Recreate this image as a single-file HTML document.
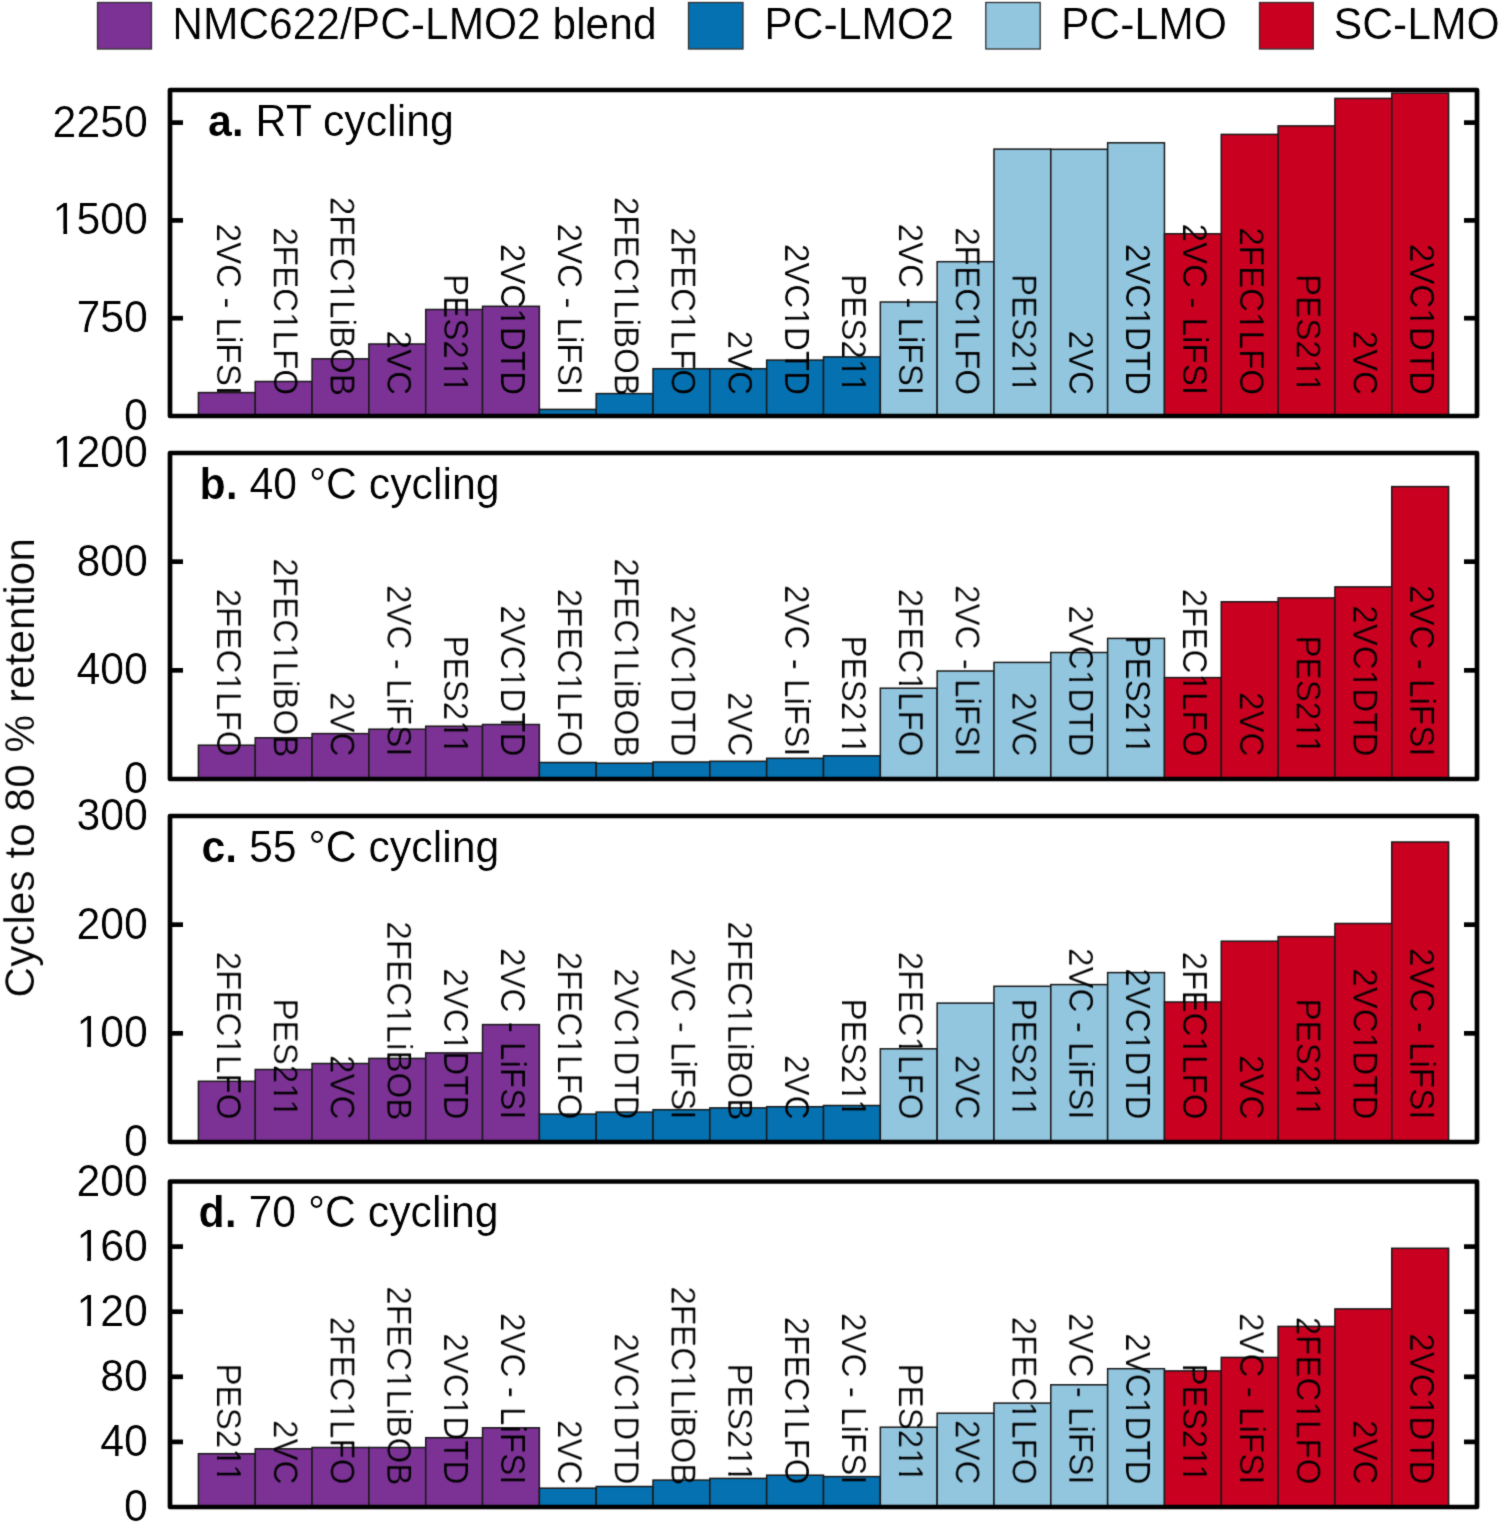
<!DOCTYPE html>
<html><head><meta charset="utf-8"><title>Cycles to 80% retention</title>
<style>html,body{margin:0;padding:0;background:#fff;}svg{display:block;will-change:transform;}text{font-family:"Liberation Sans", sans-serif;fill:#000;}text{filter:url(#thin);}</style>
</head><body>
<svg width="1500" height="1525" viewBox="0 0 1500 1525">
<defs><filter id="soft" x="0" y="0" width="1500" height="1525" filterUnits="userSpaceOnUse" color-interpolation-filters="sRGB"><feConvolveMatrix order="3" kernelMatrix="0.03667 0.19150 0.03667 0.19150 1.00000 0.19150 0.03667 0.19150 0.03667" divisor="1.91266" edgeMode="duplicate"/></filter></defs><g filter="url(#soft)">
<rect x="0" y="0" width="1500" height="1525" fill="#fff"/>
<defs><filter id="thin" x="-0.1" y="-0.3" width="1.2" height="1.6"><feComponentTransfer><feFuncA type="linear" slope="1.3" intercept="-0.3"/></feComponentTransfer></filter></defs>
<rect x="97.5" y="2.5" width="54.0" height="46.5" fill="#7B3294" stroke="#333" stroke-width="1.3"/>
<text transform="translate(172.3,39) scale(1,1.035)" font-size="42.5">NMC622/PC-LMO2 blend</text>
<rect x="688.5" y="2.5" width="54.5" height="46.5" fill="#0571B0" stroke="#333" stroke-width="1.3"/>
<text transform="translate(764.2,39) scale(1,1.035)" font-size="42.7">PC-LMO2</text>
<rect x="985.8" y="2.5" width="54.4" height="46.5" fill="#92C5DE" stroke="#333" stroke-width="1.3"/>
<text transform="translate(1060.9,39) scale(1,1.035)" font-size="42.7">PC-LMO</text>
<rect x="1259.5" y="2.5" width="53.8" height="46.5" fill="#CA0020" stroke="#333" stroke-width="1.3"/>
<text transform="translate(1333.7,39) scale(1,1.035)" font-size="42.7">SC-LMO</text>
<text transform="translate(34.2,767.8) rotate(-90)" text-anchor="middle" font-size="42.4">Cycles to 80 % retention</text>
<rect x="198.41" y="392.60" width="56.83" height="23.40" fill="#7B3294" stroke="#1a1a1a" stroke-width="1.5"/>
<rect x="255.24" y="381.50" width="56.83" height="34.50" fill="#7B3294" stroke="#1a1a1a" stroke-width="1.5"/>
<rect x="312.07" y="358.80" width="56.83" height="57.20" fill="#7B3294" stroke="#1a1a1a" stroke-width="1.5"/>
<rect x="368.89" y="344.00" width="56.83" height="72.00" fill="#7B3294" stroke="#1a1a1a" stroke-width="1.5"/>
<rect x="425.72" y="309.50" width="56.83" height="106.50" fill="#7B3294" stroke="#1a1a1a" stroke-width="1.5"/>
<rect x="482.54" y="306.30" width="56.83" height="109.70" fill="#7B3294" stroke="#1a1a1a" stroke-width="1.5"/>
<rect x="539.37" y="409.40" width="56.83" height="6.60" fill="#0571B0" stroke="#1a1a1a" stroke-width="1.5"/>
<rect x="596.20" y="393.60" width="56.83" height="22.40" fill="#0571B0" stroke="#1a1a1a" stroke-width="1.5"/>
<rect x="653.02" y="368.70" width="56.83" height="47.30" fill="#0571B0" stroke="#1a1a1a" stroke-width="1.5"/>
<rect x="709.85" y="368.70" width="56.83" height="47.30" fill="#0571B0" stroke="#1a1a1a" stroke-width="1.5"/>
<rect x="766.67" y="360.10" width="56.83" height="55.90" fill="#0571B0" stroke="#1a1a1a" stroke-width="1.5"/>
<rect x="823.50" y="356.90" width="56.83" height="59.10" fill="#0571B0" stroke="#1a1a1a" stroke-width="1.5"/>
<rect x="880.33" y="302.00" width="56.83" height="114.00" fill="#92C5DE" stroke="#1a1a1a" stroke-width="1.5"/>
<rect x="937.15" y="261.70" width="56.83" height="154.30" fill="#92C5DE" stroke="#1a1a1a" stroke-width="1.5"/>
<rect x="993.98" y="149.10" width="56.83" height="266.90" fill="#92C5DE" stroke="#1a1a1a" stroke-width="1.5"/>
<rect x="1050.80" y="149.30" width="56.83" height="266.70" fill="#92C5DE" stroke="#1a1a1a" stroke-width="1.5"/>
<rect x="1107.63" y="142.80" width="56.83" height="273.20" fill="#92C5DE" stroke="#1a1a1a" stroke-width="1.5"/>
<rect x="1164.46" y="233.80" width="56.83" height="182.20" fill="#CA0020" stroke="#1a1a1a" stroke-width="1.5"/>
<rect x="1221.28" y="134.40" width="56.83" height="281.60" fill="#CA0020" stroke="#1a1a1a" stroke-width="1.5"/>
<rect x="1278.11" y="125.90" width="56.83" height="290.10" fill="#CA0020" stroke="#1a1a1a" stroke-width="1.5"/>
<rect x="1334.93" y="98.40" width="56.83" height="317.60" fill="#CA0020" stroke="#1a1a1a" stroke-width="1.5"/>
<rect x="1391.76" y="93.10" width="56.83" height="322.90" fill="#CA0020" stroke="#1a1a1a" stroke-width="1.5"/>
<text transform="translate(216.83,395.10) rotate(90) scale(1,1.04)" font-size="33.2" text-anchor="end">2VC - LiFSI</text>
<text id="t1" transform="translate(273.65,395.10) rotate(90) scale(1,1.04)" font-size="33.2" text-anchor="end" clip-path="url(#c1)">2FEC1LFO</text>
<text id="t2" transform="translate(330.48,396.10) rotate(90) scale(1,1.04)" font-size="33.2" text-anchor="end" clip-path="url(#c2)">2FEC1LiBOB</text>
<text transform="translate(387.30,395.10) rotate(90) scale(1,1.04)" font-size="33.2" text-anchor="end">2VC</text>
<text id="t3" transform="translate(444.13,393.30) rotate(90) scale(1,1.04)" font-size="33.2" text-anchor="end" clip-path="url(#c3)">PES211</text>
<text id="t4" transform="translate(500.96,395.10) rotate(90) scale(1,1.04)" font-size="33.2" text-anchor="end" clip-path="url(#c4)">2VC1DTD</text>
<text transform="translate(557.78,395.10) rotate(90) scale(1,1.04)" font-size="33.2" text-anchor="end">2VC - LiFSI</text>
<text id="t5" transform="translate(614.61,396.10) rotate(90) scale(1,1.04)" font-size="33.2" text-anchor="end" clip-path="url(#c5)">2FEC1LiBOB</text>
<text id="t6" transform="translate(671.43,395.10) rotate(90) scale(1,1.04)" font-size="33.2" text-anchor="end" clip-path="url(#c6)">2FEC1LFO</text>
<text transform="translate(728.26,395.10) rotate(90) scale(1,1.04)" font-size="33.2" text-anchor="end">2VC</text>
<text id="t7" transform="translate(785.09,395.10) rotate(90) scale(1,1.04)" font-size="33.2" text-anchor="end" clip-path="url(#c7)">2VC1DTD</text>
<text id="t8" transform="translate(841.91,393.30) rotate(90) scale(1,1.04)" font-size="33.2" text-anchor="end" clip-path="url(#c8)">PES211</text>
<text transform="translate(898.74,395.10) rotate(90) scale(1,1.04)" font-size="33.2" text-anchor="end">2VC - LiFSI</text>
<text id="t9" transform="translate(955.57,395.10) rotate(90) scale(1,1.04)" font-size="33.2" text-anchor="end" clip-path="url(#c9)">2FEC1LFO</text>
<text id="t10" transform="translate(1012.39,393.30) rotate(90) scale(1,1.04)" font-size="33.2" text-anchor="end" clip-path="url(#c10)">PES211</text>
<text transform="translate(1069.22,395.10) rotate(90) scale(1,1.04)" font-size="33.2" text-anchor="end">2VC</text>
<text id="t11" transform="translate(1126.04,395.10) rotate(90) scale(1,1.04)" font-size="33.2" text-anchor="end" clip-path="url(#c11)">2VC1DTD</text>
<text transform="translate(1182.87,395.10) rotate(90) scale(1,1.04)" font-size="33.2" text-anchor="end">2VC - LiFSI</text>
<text id="t12" transform="translate(1239.70,395.10) rotate(90) scale(1,1.04)" font-size="33.2" text-anchor="end" clip-path="url(#c12)">2FEC1LFO</text>
<text id="t13" transform="translate(1296.52,393.30) rotate(90) scale(1,1.04)" font-size="33.2" text-anchor="end" clip-path="url(#c13)">PES211</text>
<text transform="translate(1353.35,395.10) rotate(90) scale(1,1.04)" font-size="33.2" text-anchor="end">2VC</text>
<text id="t14" transform="translate(1410.17,395.10) rotate(90) scale(1,1.04)" font-size="33.2" text-anchor="end" clip-path="url(#c14)">2VC1DTD</text>
<rect x="170.0" y="90" width="1307.0" height="326" fill="none" stroke="#000" stroke-width="4.7" stroke-linejoin="round"/>
<text transform="translate(147.8,430.00) scale(1,1.04)" font-size="42.8" text-anchor="end">0</text>
<line x1="170.0" y1="318.20" x2="183.0" y2="318.20" stroke="#000" stroke-width="4.7"/>
<line x1="1477.0" y1="318.20" x2="1464.0" y2="318.20" stroke="#000" stroke-width="4.7"/>
<text transform="translate(147.8,332.20) scale(1,1.04)" font-size="42.8" text-anchor="end">750</text>
<line x1="170.0" y1="220.40" x2="183.0" y2="220.40" stroke="#000" stroke-width="4.7"/>
<line x1="1477.0" y1="220.40" x2="1464.0" y2="220.40" stroke="#000" stroke-width="4.7"/>
<text id="t15" transform="translate(147.8,234.40) scale(1,1.04)" font-size="42.8" text-anchor="end" clip-path="url(#c15)">1500</text>
<line x1="170.0" y1="122.60" x2="183.0" y2="122.60" stroke="#000" stroke-width="4.7"/>
<line x1="1477.0" y1="122.60" x2="1464.0" y2="122.60" stroke="#000" stroke-width="4.7"/>
<text transform="translate(147.8,136.60) scale(1,1.04)" font-size="42.8" text-anchor="end">2250</text>
<text transform="translate(208,136.10) scale(1,1.02)" font-size="42.8"><tspan font-weight="bold">a.</tspan> RT cycling</text>
<rect x="198.41" y="745.20" width="56.83" height="33.80" fill="#7B3294" stroke="#1a1a1a" stroke-width="1.5"/>
<rect x="255.24" y="737.80" width="56.83" height="41.20" fill="#7B3294" stroke="#1a1a1a" stroke-width="1.5"/>
<rect x="312.07" y="733.60" width="56.83" height="45.40" fill="#7B3294" stroke="#1a1a1a" stroke-width="1.5"/>
<rect x="368.89" y="729.20" width="56.83" height="49.80" fill="#7B3294" stroke="#1a1a1a" stroke-width="1.5"/>
<rect x="425.72" y="726.20" width="56.83" height="52.80" fill="#7B3294" stroke="#1a1a1a" stroke-width="1.5"/>
<rect x="482.54" y="724.50" width="56.83" height="54.50" fill="#7B3294" stroke="#1a1a1a" stroke-width="1.5"/>
<rect x="539.37" y="762.50" width="56.83" height="16.50" fill="#0571B0" stroke="#1a1a1a" stroke-width="1.5"/>
<rect x="596.20" y="763.20" width="56.83" height="15.80" fill="#0571B0" stroke="#1a1a1a" stroke-width="1.5"/>
<rect x="653.02" y="762.00" width="56.83" height="17.00" fill="#0571B0" stroke="#1a1a1a" stroke-width="1.5"/>
<rect x="709.85" y="761.30" width="56.83" height="17.70" fill="#0571B0" stroke="#1a1a1a" stroke-width="1.5"/>
<rect x="766.67" y="758.30" width="56.83" height="20.70" fill="#0571B0" stroke="#1a1a1a" stroke-width="1.5"/>
<rect x="823.50" y="755.80" width="56.83" height="23.20" fill="#0571B0" stroke="#1a1a1a" stroke-width="1.5"/>
<rect x="880.33" y="688.20" width="56.83" height="90.80" fill="#92C5DE" stroke="#1a1a1a" stroke-width="1.5"/>
<rect x="937.15" y="671.00" width="56.83" height="108.00" fill="#92C5DE" stroke="#1a1a1a" stroke-width="1.5"/>
<rect x="993.98" y="662.40" width="56.83" height="116.60" fill="#92C5DE" stroke="#1a1a1a" stroke-width="1.5"/>
<rect x="1050.80" y="652.50" width="56.83" height="126.50" fill="#92C5DE" stroke="#1a1a1a" stroke-width="1.5"/>
<rect x="1107.63" y="638.40" width="56.83" height="140.60" fill="#92C5DE" stroke="#1a1a1a" stroke-width="1.5"/>
<rect x="1164.46" y="677.60" width="56.83" height="101.40" fill="#CA0020" stroke="#1a1a1a" stroke-width="1.5"/>
<rect x="1221.28" y="601.80" width="56.83" height="177.20" fill="#CA0020" stroke="#1a1a1a" stroke-width="1.5"/>
<rect x="1278.11" y="597.90" width="56.83" height="181.10" fill="#CA0020" stroke="#1a1a1a" stroke-width="1.5"/>
<rect x="1334.93" y="586.90" width="56.83" height="192.10" fill="#CA0020" stroke="#1a1a1a" stroke-width="1.5"/>
<rect x="1391.76" y="486.60" width="56.83" height="292.40" fill="#CA0020" stroke="#1a1a1a" stroke-width="1.5"/>
<text id="t16" transform="translate(216.83,756.50) rotate(90) scale(1,1.04)" font-size="33.2" text-anchor="end" clip-path="url(#c16)">2FEC1LFO</text>
<text id="t17" transform="translate(273.65,757.50) rotate(90) scale(1,1.04)" font-size="33.2" text-anchor="end" clip-path="url(#c17)">2FEC1LiBOB</text>
<text transform="translate(330.48,756.50) rotate(90) scale(1,1.04)" font-size="33.2" text-anchor="end">2VC</text>
<text transform="translate(387.30,756.50) rotate(90) scale(1,1.04)" font-size="33.2" text-anchor="end">2VC - LiFSI</text>
<text id="t18" transform="translate(444.13,754.70) rotate(90) scale(1,1.04)" font-size="33.2" text-anchor="end" clip-path="url(#c18)">PES211</text>
<text id="t19" transform="translate(500.96,756.50) rotate(90) scale(1,1.04)" font-size="33.2" text-anchor="end" clip-path="url(#c19)">2VC1DTD</text>
<text id="t20" transform="translate(557.78,756.50) rotate(90) scale(1,1.04)" font-size="33.2" text-anchor="end" clip-path="url(#c20)">2FEC1LFO</text>
<text id="t21" transform="translate(614.61,757.50) rotate(90) scale(1,1.04)" font-size="33.2" text-anchor="end" clip-path="url(#c21)">2FEC1LiBOB</text>
<text id="t22" transform="translate(671.43,756.50) rotate(90) scale(1,1.04)" font-size="33.2" text-anchor="end" clip-path="url(#c22)">2VC1DTD</text>
<text transform="translate(728.26,756.50) rotate(90) scale(1,1.04)" font-size="33.2" text-anchor="end">2VC</text>
<text transform="translate(785.09,756.50) rotate(90) scale(1,1.04)" font-size="33.2" text-anchor="end">2VC - LiFSI</text>
<text id="t23" transform="translate(841.91,754.70) rotate(90) scale(1,1.04)" font-size="33.2" text-anchor="end" clip-path="url(#c23)">PES211</text>
<text id="t24" transform="translate(898.74,756.50) rotate(90) scale(1,1.04)" font-size="33.2" text-anchor="end" clip-path="url(#c24)">2FEC1LFO</text>
<text transform="translate(955.57,756.50) rotate(90) scale(1,1.04)" font-size="33.2" text-anchor="end">2VC - LiFSI</text>
<text transform="translate(1012.39,756.50) rotate(90) scale(1,1.04)" font-size="33.2" text-anchor="end">2VC</text>
<text id="t25" transform="translate(1069.22,756.50) rotate(90) scale(1,1.04)" font-size="33.2" text-anchor="end" clip-path="url(#c25)">2VC1DTD</text>
<text id="t26" transform="translate(1126.04,754.70) rotate(90) scale(1,1.04)" font-size="33.2" text-anchor="end" clip-path="url(#c26)">PES211</text>
<text id="t27" transform="translate(1182.87,756.50) rotate(90) scale(1,1.04)" font-size="33.2" text-anchor="end" clip-path="url(#c27)">2FEC1LFO</text>
<text transform="translate(1239.70,756.50) rotate(90) scale(1,1.04)" font-size="33.2" text-anchor="end">2VC</text>
<text id="t28" transform="translate(1296.52,754.70) rotate(90) scale(1,1.04)" font-size="33.2" text-anchor="end" clip-path="url(#c28)">PES211</text>
<text id="t29" transform="translate(1353.35,756.50) rotate(90) scale(1,1.04)" font-size="33.2" text-anchor="end" clip-path="url(#c29)">2VC1DTD</text>
<text transform="translate(1410.17,756.50) rotate(90) scale(1,1.04)" font-size="33.2" text-anchor="end">2VC - LiFSI</text>
<rect x="170.0" y="453" width="1307.0" height="326" fill="none" stroke="#000" stroke-width="4.7" stroke-linejoin="round"/>
<text transform="translate(147.8,793.00) scale(1,1.04)" font-size="42.8" text-anchor="end">0</text>
<line x1="170.0" y1="670.33" x2="183.0" y2="670.33" stroke="#000" stroke-width="4.7"/>
<line x1="1477.0" y1="670.33" x2="1464.0" y2="670.33" stroke="#000" stroke-width="4.7"/>
<text transform="translate(147.8,684.33) scale(1,1.04)" font-size="42.8" text-anchor="end">400</text>
<line x1="170.0" y1="561.67" x2="183.0" y2="561.67" stroke="#000" stroke-width="4.7"/>
<line x1="1477.0" y1="561.67" x2="1464.0" y2="561.67" stroke="#000" stroke-width="4.7"/>
<text transform="translate(147.8,575.67) scale(1,1.04)" font-size="42.8" text-anchor="end">800</text>
<text id="t30" transform="translate(147.8,467.00) scale(1,1.04)" font-size="42.8" text-anchor="end" clip-path="url(#c30)">1200</text>
<text transform="translate(199.5,498.90) scale(1,1.02)" font-size="42.8"><tspan font-weight="bold">b.</tspan> 40 °C cycling</text>
<rect x="198.41" y="1081.30" width="56.83" height="60.70" fill="#7B3294" stroke="#1a1a1a" stroke-width="1.5"/>
<rect x="255.24" y="1069.50" width="56.83" height="72.50" fill="#7B3294" stroke="#1a1a1a" stroke-width="1.5"/>
<rect x="312.07" y="1063.50" width="56.83" height="78.50" fill="#7B3294" stroke="#1a1a1a" stroke-width="1.5"/>
<rect x="368.89" y="1058.40" width="56.83" height="83.60" fill="#7B3294" stroke="#1a1a1a" stroke-width="1.5"/>
<rect x="425.72" y="1052.90" width="56.83" height="89.10" fill="#7B3294" stroke="#1a1a1a" stroke-width="1.5"/>
<rect x="482.54" y="1024.60" width="56.83" height="117.40" fill="#7B3294" stroke="#1a1a1a" stroke-width="1.5"/>
<rect x="539.37" y="1114.10" width="56.83" height="27.90" fill="#0571B0" stroke="#1a1a1a" stroke-width="1.5"/>
<rect x="596.20" y="1112.10" width="56.83" height="29.90" fill="#0571B0" stroke="#1a1a1a" stroke-width="1.5"/>
<rect x="653.02" y="1109.70" width="56.83" height="32.30" fill="#0571B0" stroke="#1a1a1a" stroke-width="1.5"/>
<rect x="709.85" y="1107.90" width="56.83" height="34.10" fill="#0571B0" stroke="#1a1a1a" stroke-width="1.5"/>
<rect x="766.67" y="1106.70" width="56.83" height="35.30" fill="#0571B0" stroke="#1a1a1a" stroke-width="1.5"/>
<rect x="823.50" y="1105.50" width="56.83" height="36.50" fill="#0571B0" stroke="#1a1a1a" stroke-width="1.5"/>
<rect x="880.33" y="1048.80" width="56.83" height="93.20" fill="#92C5DE" stroke="#1a1a1a" stroke-width="1.5"/>
<rect x="937.15" y="1003.10" width="56.83" height="138.90" fill="#92C5DE" stroke="#1a1a1a" stroke-width="1.5"/>
<rect x="993.98" y="986.30" width="56.83" height="155.70" fill="#92C5DE" stroke="#1a1a1a" stroke-width="1.5"/>
<rect x="1050.80" y="984.60" width="56.83" height="157.40" fill="#92C5DE" stroke="#1a1a1a" stroke-width="1.5"/>
<rect x="1107.63" y="972.60" width="56.83" height="169.40" fill="#92C5DE" stroke="#1a1a1a" stroke-width="1.5"/>
<rect x="1164.46" y="1002.00" width="56.83" height="140.00" fill="#CA0020" stroke="#1a1a1a" stroke-width="1.5"/>
<rect x="1221.28" y="941.20" width="56.83" height="200.80" fill="#CA0020" stroke="#1a1a1a" stroke-width="1.5"/>
<rect x="1278.11" y="936.60" width="56.83" height="205.40" fill="#CA0020" stroke="#1a1a1a" stroke-width="1.5"/>
<rect x="1334.93" y="923.50" width="56.83" height="218.50" fill="#CA0020" stroke="#1a1a1a" stroke-width="1.5"/>
<rect x="1391.76" y="842.00" width="56.83" height="300.00" fill="#CA0020" stroke="#1a1a1a" stroke-width="1.5"/>
<text id="t31" transform="translate(216.83,1119.50) rotate(90) scale(1,1.04)" font-size="33.2" text-anchor="end" clip-path="url(#c31)">2FEC1LFO</text>
<text id="t32" transform="translate(273.65,1117.70) rotate(90) scale(1,1.04)" font-size="33.2" text-anchor="end" clip-path="url(#c32)">PES211</text>
<text transform="translate(330.48,1119.50) rotate(90) scale(1,1.04)" font-size="33.2" text-anchor="end">2VC</text>
<text id="t33" transform="translate(387.30,1120.50) rotate(90) scale(1,1.04)" font-size="33.2" text-anchor="end" clip-path="url(#c33)">2FEC1LiBOB</text>
<text id="t34" transform="translate(444.13,1119.50) rotate(90) scale(1,1.04)" font-size="33.2" text-anchor="end" clip-path="url(#c34)">2VC1DTD</text>
<text transform="translate(500.96,1119.50) rotate(90) scale(1,1.04)" font-size="33.2" text-anchor="end">2VC - LiFSI</text>
<text id="t35" transform="translate(557.78,1119.50) rotate(90) scale(1,1.04)" font-size="33.2" text-anchor="end" clip-path="url(#c35)">2FEC1LFO</text>
<text id="t36" transform="translate(614.61,1119.50) rotate(90) scale(1,1.04)" font-size="33.2" text-anchor="end" clip-path="url(#c36)">2VC1DTD</text>
<text transform="translate(671.43,1119.50) rotate(90) scale(1,1.04)" font-size="33.2" text-anchor="end">2VC - LiFSI</text>
<text id="t37" transform="translate(728.26,1120.50) rotate(90) scale(1,1.04)" font-size="33.2" text-anchor="end" clip-path="url(#c37)">2FEC1LiBOB</text>
<text transform="translate(785.09,1119.50) rotate(90) scale(1,1.04)" font-size="33.2" text-anchor="end">2VC</text>
<text id="t38" transform="translate(841.91,1117.70) rotate(90) scale(1,1.04)" font-size="33.2" text-anchor="end" clip-path="url(#c38)">PES211</text>
<text id="t39" transform="translate(898.74,1119.50) rotate(90) scale(1,1.04)" font-size="33.2" text-anchor="end" clip-path="url(#c39)">2FEC1LFO</text>
<text transform="translate(955.57,1119.50) rotate(90) scale(1,1.04)" font-size="33.2" text-anchor="end">2VC</text>
<text id="t40" transform="translate(1012.39,1117.70) rotate(90) scale(1,1.04)" font-size="33.2" text-anchor="end" clip-path="url(#c40)">PES211</text>
<text transform="translate(1069.22,1119.50) rotate(90) scale(1,1.04)" font-size="33.2" text-anchor="end">2VC - LiFSI</text>
<text id="t41" transform="translate(1126.04,1119.50) rotate(90) scale(1,1.04)" font-size="33.2" text-anchor="end" clip-path="url(#c41)">2VC1DTD</text>
<text id="t42" transform="translate(1182.87,1119.50) rotate(90) scale(1,1.04)" font-size="33.2" text-anchor="end" clip-path="url(#c42)">2FEC1LFO</text>
<text transform="translate(1239.70,1119.50) rotate(90) scale(1,1.04)" font-size="33.2" text-anchor="end">2VC</text>
<text id="t43" transform="translate(1296.52,1117.70) rotate(90) scale(1,1.04)" font-size="33.2" text-anchor="end" clip-path="url(#c43)">PES211</text>
<text id="t44" transform="translate(1353.35,1119.50) rotate(90) scale(1,1.04)" font-size="33.2" text-anchor="end" clip-path="url(#c44)">2VC1DTD</text>
<text transform="translate(1410.17,1119.50) rotate(90) scale(1,1.04)" font-size="33.2" text-anchor="end">2VC - LiFSI</text>
<rect x="170.0" y="816" width="1307.0" height="326" fill="none" stroke="#000" stroke-width="4.7" stroke-linejoin="round"/>
<text transform="translate(147.8,1156.00) scale(1,1.04)" font-size="42.8" text-anchor="end">0</text>
<line x1="170.0" y1="1033.33" x2="183.0" y2="1033.33" stroke="#000" stroke-width="4.7"/>
<line x1="1477.0" y1="1033.33" x2="1464.0" y2="1033.33" stroke="#000" stroke-width="4.7"/>
<text id="t45" transform="translate(147.8,1047.33) scale(1,1.04)" font-size="42.8" text-anchor="end" clip-path="url(#c45)">100</text>
<line x1="170.0" y1="924.67" x2="183.0" y2="924.67" stroke="#000" stroke-width="4.7"/>
<line x1="1477.0" y1="924.67" x2="1464.0" y2="924.67" stroke="#000" stroke-width="4.7"/>
<text transform="translate(147.8,938.67) scale(1,1.04)" font-size="42.8" text-anchor="end">200</text>
<text transform="translate(147.8,830.00) scale(1,1.04)" font-size="42.8" text-anchor="end">300</text>
<text transform="translate(201.5,861.60) scale(1,1.02)" font-size="42.8"><tspan font-weight="bold">c.</tspan> 55 °C cycling</text>
<rect x="198.41" y="1453.70" width="56.83" height="53.30" fill="#7B3294" stroke="#1a1a1a" stroke-width="1.5"/>
<rect x="255.24" y="1448.80" width="56.83" height="58.20" fill="#7B3294" stroke="#1a1a1a" stroke-width="1.5"/>
<rect x="312.07" y="1447.50" width="56.83" height="59.50" fill="#7B3294" stroke="#1a1a1a" stroke-width="1.5"/>
<rect x="368.89" y="1447.50" width="56.83" height="59.50" fill="#7B3294" stroke="#1a1a1a" stroke-width="1.5"/>
<rect x="425.72" y="1437.70" width="56.83" height="69.30" fill="#7B3294" stroke="#1a1a1a" stroke-width="1.5"/>
<rect x="482.54" y="1427.80" width="56.83" height="79.20" fill="#7B3294" stroke="#1a1a1a" stroke-width="1.5"/>
<rect x="539.37" y="1488.20" width="56.83" height="18.80" fill="#0571B0" stroke="#1a1a1a" stroke-width="1.5"/>
<rect x="596.20" y="1486.50" width="56.83" height="20.50" fill="#0571B0" stroke="#1a1a1a" stroke-width="1.5"/>
<rect x="653.02" y="1480.10" width="56.83" height="26.90" fill="#0571B0" stroke="#1a1a1a" stroke-width="1.5"/>
<rect x="709.85" y="1478.40" width="56.83" height="28.60" fill="#0571B0" stroke="#1a1a1a" stroke-width="1.5"/>
<rect x="766.67" y="1475.20" width="56.83" height="31.80" fill="#0571B0" stroke="#1a1a1a" stroke-width="1.5"/>
<rect x="823.50" y="1476.60" width="56.83" height="30.40" fill="#0571B0" stroke="#1a1a1a" stroke-width="1.5"/>
<rect x="880.33" y="1427.20" width="56.83" height="79.80" fill="#92C5DE" stroke="#1a1a1a" stroke-width="1.5"/>
<rect x="937.15" y="1413.20" width="56.83" height="93.80" fill="#92C5DE" stroke="#1a1a1a" stroke-width="1.5"/>
<rect x="993.98" y="1403.10" width="56.83" height="103.90" fill="#92C5DE" stroke="#1a1a1a" stroke-width="1.5"/>
<rect x="1050.80" y="1384.80" width="56.83" height="122.20" fill="#92C5DE" stroke="#1a1a1a" stroke-width="1.5"/>
<rect x="1107.63" y="1368.70" width="56.83" height="138.30" fill="#92C5DE" stroke="#1a1a1a" stroke-width="1.5"/>
<rect x="1164.46" y="1370.90" width="56.83" height="136.10" fill="#CA0020" stroke="#1a1a1a" stroke-width="1.5"/>
<rect x="1221.28" y="1357.40" width="56.83" height="149.60" fill="#CA0020" stroke="#1a1a1a" stroke-width="1.5"/>
<rect x="1278.11" y="1326.40" width="56.83" height="180.60" fill="#CA0020" stroke="#1a1a1a" stroke-width="1.5"/>
<rect x="1334.93" y="1308.90" width="56.83" height="198.10" fill="#CA0020" stroke="#1a1a1a" stroke-width="1.5"/>
<rect x="1391.76" y="1248.30" width="56.83" height="258.70" fill="#CA0020" stroke="#1a1a1a" stroke-width="1.5"/>
<text id="t46" transform="translate(216.83,1482.70) rotate(90) scale(1,1.04)" font-size="33.2" text-anchor="end" clip-path="url(#c46)">PES211</text>
<text transform="translate(273.65,1484.50) rotate(90) scale(1,1.04)" font-size="33.2" text-anchor="end">2VC</text>
<text id="t47" transform="translate(330.48,1484.50) rotate(90) scale(1,1.04)" font-size="33.2" text-anchor="end" clip-path="url(#c47)">2FEC1LFO</text>
<text id="t48" transform="translate(387.30,1485.50) rotate(90) scale(1,1.04)" font-size="33.2" text-anchor="end" clip-path="url(#c48)">2FEC1LiBOB</text>
<text id="t49" transform="translate(444.13,1484.50) rotate(90) scale(1,1.04)" font-size="33.2" text-anchor="end" clip-path="url(#c49)">2VC1DTD</text>
<text transform="translate(500.96,1484.50) rotate(90) scale(1,1.04)" font-size="33.2" text-anchor="end">2VC - LiFSI</text>
<text transform="translate(557.78,1484.50) rotate(90) scale(1,1.04)" font-size="33.2" text-anchor="end">2VC</text>
<text id="t50" transform="translate(614.61,1484.50) rotate(90) scale(1,1.04)" font-size="33.2" text-anchor="end" clip-path="url(#c50)">2VC1DTD</text>
<text id="t51" transform="translate(671.43,1485.50) rotate(90) scale(1,1.04)" font-size="33.2" text-anchor="end" clip-path="url(#c51)">2FEC1LiBOB</text>
<text id="t52" transform="translate(728.26,1482.70) rotate(90) scale(1,1.04)" font-size="33.2" text-anchor="end" clip-path="url(#c52)">PES211</text>
<text id="t53" transform="translate(785.09,1484.50) rotate(90) scale(1,1.04)" font-size="33.2" text-anchor="end" clip-path="url(#c53)">2FEC1LFO</text>
<text transform="translate(841.91,1484.50) rotate(90) scale(1,1.04)" font-size="33.2" text-anchor="end">2VC - LiFSI</text>
<text id="t54" transform="translate(898.74,1482.70) rotate(90) scale(1,1.04)" font-size="33.2" text-anchor="end" clip-path="url(#c54)">PES211</text>
<text transform="translate(955.57,1484.50) rotate(90) scale(1,1.04)" font-size="33.2" text-anchor="end">2VC</text>
<text id="t55" transform="translate(1012.39,1484.50) rotate(90) scale(1,1.04)" font-size="33.2" text-anchor="end" clip-path="url(#c55)">2FEC1LFO</text>
<text transform="translate(1069.22,1484.50) rotate(90) scale(1,1.04)" font-size="33.2" text-anchor="end">2VC - LiFSI</text>
<text id="t56" transform="translate(1126.04,1484.50) rotate(90) scale(1,1.04)" font-size="33.2" text-anchor="end" clip-path="url(#c56)">2VC1DTD</text>
<text id="t57" transform="translate(1182.87,1482.70) rotate(90) scale(1,1.04)" font-size="33.2" text-anchor="end" clip-path="url(#c57)">PES211</text>
<text transform="translate(1239.70,1484.50) rotate(90) scale(1,1.04)" font-size="33.2" text-anchor="end">2VC - LiFSI</text>
<text id="t58" transform="translate(1296.52,1484.50) rotate(90) scale(1,1.04)" font-size="33.2" text-anchor="end" clip-path="url(#c58)">2FEC1LFO</text>
<text transform="translate(1353.35,1484.50) rotate(90) scale(1,1.04)" font-size="33.2" text-anchor="end">2VC</text>
<text id="t59" transform="translate(1410.17,1484.50) rotate(90) scale(1,1.04)" font-size="33.2" text-anchor="end" clip-path="url(#c59)">2VC1DTD</text>
<rect x="170.0" y="1181.5" width="1307.0" height="325.5" fill="none" stroke="#000" stroke-width="4.7" stroke-linejoin="round"/>
<text transform="translate(147.8,1521.00) scale(1,1.04)" font-size="42.8" text-anchor="end">0</text>
<line x1="170.0" y1="1441.90" x2="183.0" y2="1441.90" stroke="#000" stroke-width="4.7"/>
<line x1="1477.0" y1="1441.90" x2="1464.0" y2="1441.90" stroke="#000" stroke-width="4.7"/>
<text transform="translate(147.8,1455.90) scale(1,1.04)" font-size="42.8" text-anchor="end">40</text>
<line x1="170.0" y1="1376.80" x2="183.0" y2="1376.80" stroke="#000" stroke-width="4.7"/>
<line x1="1477.0" y1="1376.80" x2="1464.0" y2="1376.80" stroke="#000" stroke-width="4.7"/>
<text transform="translate(147.8,1390.80) scale(1,1.04)" font-size="42.8" text-anchor="end">80</text>
<line x1="170.0" y1="1311.70" x2="183.0" y2="1311.70" stroke="#000" stroke-width="4.7"/>
<line x1="1477.0" y1="1311.70" x2="1464.0" y2="1311.70" stroke="#000" stroke-width="4.7"/>
<text id="t60" transform="translate(147.8,1325.70) scale(1,1.04)" font-size="42.8" text-anchor="end" clip-path="url(#c60)">120</text>
<line x1="170.0" y1="1246.60" x2="183.0" y2="1246.60" stroke="#000" stroke-width="4.7"/>
<line x1="1477.0" y1="1246.60" x2="1464.0" y2="1246.60" stroke="#000" stroke-width="4.7"/>
<text id="t61" transform="translate(147.8,1260.60) scale(1,1.04)" font-size="42.8" text-anchor="end" clip-path="url(#c61)">160</text>
<text transform="translate(147.8,1195.50) scale(1,1.04)" font-size="42.8" text-anchor="end">200</text>
<text transform="translate(198.5,1226.60) scale(1,1.02)" font-size="42.8"><tspan font-weight="bold">d.</tspan> 70 °C cycling</text>
<defs><clipPath id="c1" clipPathUnits="userSpaceOnUse"><rect x="-5000" y="-5000" width="10000" height="4995.82"/><rect x="-5000.00" y="-4.68" width="4918.32" height="5004.68"/><rect x="-74.66" y="-4.68" width="2.93" height="5004.68"/><rect x="-64.97" y="-4.68" width="5064.97" height="5004.68"/></clipPath><clipPath id="c2" clipPathUnits="userSpaceOnUse"><rect x="-5000" y="-5000" width="10000" height="4995.82"/><rect x="-5000.00" y="-4.68" width="4886.94" height="5004.68"/><rect x="-106.04" y="-4.68" width="2.93" height="5004.68"/><rect x="-96.35" y="-4.68" width="5096.35" height="5004.68"/></clipPath><clipPath id="c3" clipPathUnits="userSpaceOnUse"><rect x="-5000" y="-5000" width="10000" height="4995.82"/><rect x="-5000.00" y="-4.68" width="4966.87" height="5004.68"/><rect x="-26.11" y="-4.68" width="2.93" height="5004.68"/><rect x="-10.12" y="-4.68" width="2.93" height="5004.68"/><rect x="-0.43" y="-4.68" width="5000.43" height="5004.68"/></clipPath><clipPath id="c4" clipPathUnits="userSpaceOnUse"><rect x="-5000" y="-5000" width="10000" height="4995.82"/><rect x="-5000.00" y="-4.68" width="4914.64" height="5004.68"/><rect x="-78.34" y="-4.68" width="2.93" height="5004.68"/><rect x="-68.64" y="-4.68" width="5068.64" height="5004.68"/></clipPath><clipPath id="c5" clipPathUnits="userSpaceOnUse"><rect x="-5000" y="-5000" width="10000" height="4995.82"/><rect x="-5000.00" y="-4.68" width="4886.94" height="5004.68"/><rect x="-106.04" y="-4.68" width="2.93" height="5004.68"/><rect x="-96.35" y="-4.68" width="5096.35" height="5004.68"/></clipPath><clipPath id="c6" clipPathUnits="userSpaceOnUse"><rect x="-5000" y="-5000" width="10000" height="4995.82"/><rect x="-5000.00" y="-4.68" width="4918.32" height="5004.68"/><rect x="-74.66" y="-4.68" width="2.93" height="5004.68"/><rect x="-64.97" y="-4.68" width="5064.97" height="5004.68"/></clipPath><clipPath id="c7" clipPathUnits="userSpaceOnUse"><rect x="-5000" y="-5000" width="10000" height="4995.82"/><rect x="-5000.00" y="-4.68" width="4914.64" height="5004.68"/><rect x="-78.34" y="-4.68" width="2.93" height="5004.68"/><rect x="-68.64" y="-4.68" width="5068.64" height="5004.68"/></clipPath><clipPath id="c8" clipPathUnits="userSpaceOnUse"><rect x="-5000" y="-5000" width="10000" height="4995.82"/><rect x="-5000.00" y="-4.68" width="4966.87" height="5004.68"/><rect x="-26.11" y="-4.68" width="2.93" height="5004.68"/><rect x="-10.12" y="-4.68" width="2.93" height="5004.68"/><rect x="-0.43" y="-4.68" width="5000.43" height="5004.68"/></clipPath><clipPath id="c9" clipPathUnits="userSpaceOnUse"><rect x="-5000" y="-5000" width="10000" height="4995.82"/><rect x="-5000.00" y="-4.68" width="4918.32" height="5004.68"/><rect x="-74.66" y="-4.68" width="2.93" height="5004.68"/><rect x="-64.97" y="-4.68" width="5064.97" height="5004.68"/></clipPath><clipPath id="c10" clipPathUnits="userSpaceOnUse"><rect x="-5000" y="-5000" width="10000" height="4995.82"/><rect x="-5000.00" y="-4.68" width="4966.87" height="5004.68"/><rect x="-26.11" y="-4.68" width="2.93" height="5004.68"/><rect x="-10.12" y="-4.68" width="2.93" height="5004.68"/><rect x="-0.43" y="-4.68" width="5000.43" height="5004.68"/></clipPath><clipPath id="c11" clipPathUnits="userSpaceOnUse"><rect x="-5000" y="-5000" width="10000" height="4995.82"/><rect x="-5000.00" y="-4.68" width="4914.64" height="5004.68"/><rect x="-78.34" y="-4.68" width="2.93" height="5004.68"/><rect x="-68.64" y="-4.68" width="5068.64" height="5004.68"/></clipPath><clipPath id="c12" clipPathUnits="userSpaceOnUse"><rect x="-5000" y="-5000" width="10000" height="4995.82"/><rect x="-5000.00" y="-4.68" width="4918.32" height="5004.68"/><rect x="-74.66" y="-4.68" width="2.93" height="5004.68"/><rect x="-64.97" y="-4.68" width="5064.97" height="5004.68"/></clipPath><clipPath id="c13" clipPathUnits="userSpaceOnUse"><rect x="-5000" y="-5000" width="10000" height="4995.82"/><rect x="-5000.00" y="-4.68" width="4966.87" height="5004.68"/><rect x="-26.11" y="-4.68" width="2.93" height="5004.68"/><rect x="-10.12" y="-4.68" width="2.93" height="5004.68"/><rect x="-0.43" y="-4.68" width="5000.43" height="5004.68"/></clipPath><clipPath id="c14" clipPathUnits="userSpaceOnUse"><rect x="-5000" y="-5000" width="10000" height="4995.82"/><rect x="-5000.00" y="-4.68" width="4914.64" height="5004.68"/><rect x="-78.34" y="-4.68" width="2.93" height="5004.68"/><rect x="-68.64" y="-4.68" width="5068.64" height="5004.68"/></clipPath><clipPath id="c15" clipPathUnits="userSpaceOnUse"><rect x="-5000" y="-5000" width="10000" height="4995.10"/><rect x="-5000.00" y="-5.40" width="4906.86" height="5005.40"/><rect x="-84.44" y="-5.40" width="3.78" height="5005.40"/><rect x="-72.29" y="-5.40" width="5072.29" height="5005.40"/></clipPath><clipPath id="c16" clipPathUnits="userSpaceOnUse"><rect x="-5000" y="-5000" width="10000" height="4995.82"/><rect x="-5000.00" y="-4.68" width="4918.32" height="5004.68"/><rect x="-74.66" y="-4.68" width="2.93" height="5004.68"/><rect x="-64.97" y="-4.68" width="5064.97" height="5004.68"/></clipPath><clipPath id="c17" clipPathUnits="userSpaceOnUse"><rect x="-5000" y="-5000" width="10000" height="4995.82"/><rect x="-5000.00" y="-4.68" width="4886.94" height="5004.68"/><rect x="-106.04" y="-4.68" width="2.93" height="5004.68"/><rect x="-96.35" y="-4.68" width="5096.35" height="5004.68"/></clipPath><clipPath id="c18" clipPathUnits="userSpaceOnUse"><rect x="-5000" y="-5000" width="10000" height="4995.82"/><rect x="-5000.00" y="-4.68" width="4966.87" height="5004.68"/><rect x="-26.11" y="-4.68" width="2.93" height="5004.68"/><rect x="-10.12" y="-4.68" width="2.93" height="5004.68"/><rect x="-0.43" y="-4.68" width="5000.43" height="5004.68"/></clipPath><clipPath id="c19" clipPathUnits="userSpaceOnUse"><rect x="-5000" y="-5000" width="10000" height="4995.82"/><rect x="-5000.00" y="-4.68" width="4914.64" height="5004.68"/><rect x="-78.34" y="-4.68" width="2.93" height="5004.68"/><rect x="-68.64" y="-4.68" width="5068.64" height="5004.68"/></clipPath><clipPath id="c20" clipPathUnits="userSpaceOnUse"><rect x="-5000" y="-5000" width="10000" height="4995.82"/><rect x="-5000.00" y="-4.68" width="4918.32" height="5004.68"/><rect x="-74.66" y="-4.68" width="2.93" height="5004.68"/><rect x="-64.97" y="-4.68" width="5064.97" height="5004.68"/></clipPath><clipPath id="c21" clipPathUnits="userSpaceOnUse"><rect x="-5000" y="-5000" width="10000" height="4995.82"/><rect x="-5000.00" y="-4.68" width="4886.94" height="5004.68"/><rect x="-106.04" y="-4.68" width="2.93" height="5004.68"/><rect x="-96.35" y="-4.68" width="5096.35" height="5004.68"/></clipPath><clipPath id="c22" clipPathUnits="userSpaceOnUse"><rect x="-5000" y="-5000" width="10000" height="4995.82"/><rect x="-5000.00" y="-4.68" width="4914.64" height="5004.68"/><rect x="-78.34" y="-4.68" width="2.93" height="5004.68"/><rect x="-68.64" y="-4.68" width="5068.64" height="5004.68"/></clipPath><clipPath id="c23" clipPathUnits="userSpaceOnUse"><rect x="-5000" y="-5000" width="10000" height="4995.82"/><rect x="-5000.00" y="-4.68" width="4966.87" height="5004.68"/><rect x="-26.11" y="-4.68" width="2.93" height="5004.68"/><rect x="-10.12" y="-4.68" width="2.93" height="5004.68"/><rect x="-0.43" y="-4.68" width="5000.43" height="5004.68"/></clipPath><clipPath id="c24" clipPathUnits="userSpaceOnUse"><rect x="-5000" y="-5000" width="10000" height="4995.82"/><rect x="-5000.00" y="-4.68" width="4918.32" height="5004.68"/><rect x="-74.66" y="-4.68" width="2.93" height="5004.68"/><rect x="-64.97" y="-4.68" width="5064.97" height="5004.68"/></clipPath><clipPath id="c25" clipPathUnits="userSpaceOnUse"><rect x="-5000" y="-5000" width="10000" height="4995.82"/><rect x="-5000.00" y="-4.68" width="4914.64" height="5004.68"/><rect x="-78.34" y="-4.68" width="2.93" height="5004.68"/><rect x="-68.64" y="-4.68" width="5068.64" height="5004.68"/></clipPath><clipPath id="c26" clipPathUnits="userSpaceOnUse"><rect x="-5000" y="-5000" width="10000" height="4995.82"/><rect x="-5000.00" y="-4.68" width="4966.87" height="5004.68"/><rect x="-26.11" y="-4.68" width="2.93" height="5004.68"/><rect x="-10.12" y="-4.68" width="2.93" height="5004.68"/><rect x="-0.43" y="-4.68" width="5000.43" height="5004.68"/></clipPath><clipPath id="c27" clipPathUnits="userSpaceOnUse"><rect x="-5000" y="-5000" width="10000" height="4995.82"/><rect x="-5000.00" y="-4.68" width="4918.32" height="5004.68"/><rect x="-74.66" y="-4.68" width="2.93" height="5004.68"/><rect x="-64.97" y="-4.68" width="5064.97" height="5004.68"/></clipPath><clipPath id="c28" clipPathUnits="userSpaceOnUse"><rect x="-5000" y="-5000" width="10000" height="4995.82"/><rect x="-5000.00" y="-4.68" width="4966.87" height="5004.68"/><rect x="-26.11" y="-4.68" width="2.93" height="5004.68"/><rect x="-10.12" y="-4.68" width="2.93" height="5004.68"/><rect x="-0.43" y="-4.68" width="5000.43" height="5004.68"/></clipPath><clipPath id="c29" clipPathUnits="userSpaceOnUse"><rect x="-5000" y="-5000" width="10000" height="4995.82"/><rect x="-5000.00" y="-4.68" width="4914.64" height="5004.68"/><rect x="-78.34" y="-4.68" width="2.93" height="5004.68"/><rect x="-68.64" y="-4.68" width="5068.64" height="5004.68"/></clipPath><clipPath id="c30" clipPathUnits="userSpaceOnUse"><rect x="-5000" y="-5000" width="10000" height="4995.10"/><rect x="-5000.00" y="-5.40" width="4906.86" height="5005.40"/><rect x="-84.44" y="-5.40" width="3.78" height="5005.40"/><rect x="-72.29" y="-5.40" width="5072.29" height="5005.40"/></clipPath><clipPath id="c31" clipPathUnits="userSpaceOnUse"><rect x="-5000" y="-5000" width="10000" height="4995.82"/><rect x="-5000.00" y="-4.68" width="4918.32" height="5004.68"/><rect x="-74.66" y="-4.68" width="2.93" height="5004.68"/><rect x="-64.97" y="-4.68" width="5064.97" height="5004.68"/></clipPath><clipPath id="c32" clipPathUnits="userSpaceOnUse"><rect x="-5000" y="-5000" width="10000" height="4995.82"/><rect x="-5000.00" y="-4.68" width="4966.87" height="5004.68"/><rect x="-26.11" y="-4.68" width="2.93" height="5004.68"/><rect x="-10.12" y="-4.68" width="2.93" height="5004.68"/><rect x="-0.43" y="-4.68" width="5000.43" height="5004.68"/></clipPath><clipPath id="c33" clipPathUnits="userSpaceOnUse"><rect x="-5000" y="-5000" width="10000" height="4995.82"/><rect x="-5000.00" y="-4.68" width="4886.94" height="5004.68"/><rect x="-106.04" y="-4.68" width="2.93" height="5004.68"/><rect x="-96.35" y="-4.68" width="5096.35" height="5004.68"/></clipPath><clipPath id="c34" clipPathUnits="userSpaceOnUse"><rect x="-5000" y="-5000" width="10000" height="4995.82"/><rect x="-5000.00" y="-4.68" width="4914.64" height="5004.68"/><rect x="-78.34" y="-4.68" width="2.93" height="5004.68"/><rect x="-68.64" y="-4.68" width="5068.64" height="5004.68"/></clipPath><clipPath id="c35" clipPathUnits="userSpaceOnUse"><rect x="-5000" y="-5000" width="10000" height="4995.82"/><rect x="-5000.00" y="-4.68" width="4918.32" height="5004.68"/><rect x="-74.66" y="-4.68" width="2.93" height="5004.68"/><rect x="-64.97" y="-4.68" width="5064.97" height="5004.68"/></clipPath><clipPath id="c36" clipPathUnits="userSpaceOnUse"><rect x="-5000" y="-5000" width="10000" height="4995.82"/><rect x="-5000.00" y="-4.68" width="4914.64" height="5004.68"/><rect x="-78.34" y="-4.68" width="2.93" height="5004.68"/><rect x="-68.64" y="-4.68" width="5068.64" height="5004.68"/></clipPath><clipPath id="c37" clipPathUnits="userSpaceOnUse"><rect x="-5000" y="-5000" width="10000" height="4995.82"/><rect x="-5000.00" y="-4.68" width="4886.94" height="5004.68"/><rect x="-106.04" y="-4.68" width="2.93" height="5004.68"/><rect x="-96.35" y="-4.68" width="5096.35" height="5004.68"/></clipPath><clipPath id="c38" clipPathUnits="userSpaceOnUse"><rect x="-5000" y="-5000" width="10000" height="4995.82"/><rect x="-5000.00" y="-4.68" width="4966.87" height="5004.68"/><rect x="-26.11" y="-4.68" width="2.93" height="5004.68"/><rect x="-10.12" y="-4.68" width="2.93" height="5004.68"/><rect x="-0.43" y="-4.68" width="5000.43" height="5004.68"/></clipPath><clipPath id="c39" clipPathUnits="userSpaceOnUse"><rect x="-5000" y="-5000" width="10000" height="4995.82"/><rect x="-5000.00" y="-4.68" width="4918.32" height="5004.68"/><rect x="-74.66" y="-4.68" width="2.93" height="5004.68"/><rect x="-64.97" y="-4.68" width="5064.97" height="5004.68"/></clipPath><clipPath id="c40" clipPathUnits="userSpaceOnUse"><rect x="-5000" y="-5000" width="10000" height="4995.82"/><rect x="-5000.00" y="-4.68" width="4966.87" height="5004.68"/><rect x="-26.11" y="-4.68" width="2.93" height="5004.68"/><rect x="-10.12" y="-4.68" width="2.93" height="5004.68"/><rect x="-0.43" y="-4.68" width="5000.43" height="5004.68"/></clipPath><clipPath id="c41" clipPathUnits="userSpaceOnUse"><rect x="-5000" y="-5000" width="10000" height="4995.82"/><rect x="-5000.00" y="-4.68" width="4914.64" height="5004.68"/><rect x="-78.34" y="-4.68" width="2.93" height="5004.68"/><rect x="-68.64" y="-4.68" width="5068.64" height="5004.68"/></clipPath><clipPath id="c42" clipPathUnits="userSpaceOnUse"><rect x="-5000" y="-5000" width="10000" height="4995.82"/><rect x="-5000.00" y="-4.68" width="4918.32" height="5004.68"/><rect x="-74.66" y="-4.68" width="2.93" height="5004.68"/><rect x="-64.97" y="-4.68" width="5064.97" height="5004.68"/></clipPath><clipPath id="c43" clipPathUnits="userSpaceOnUse"><rect x="-5000" y="-5000" width="10000" height="4995.82"/><rect x="-5000.00" y="-4.68" width="4966.87" height="5004.68"/><rect x="-26.11" y="-4.68" width="2.93" height="5004.68"/><rect x="-10.12" y="-4.68" width="2.93" height="5004.68"/><rect x="-0.43" y="-4.68" width="5000.43" height="5004.68"/></clipPath><clipPath id="c44" clipPathUnits="userSpaceOnUse"><rect x="-5000" y="-5000" width="10000" height="4995.82"/><rect x="-5000.00" y="-4.68" width="4914.64" height="5004.68"/><rect x="-78.34" y="-4.68" width="2.93" height="5004.68"/><rect x="-68.64" y="-4.68" width="5068.64" height="5004.68"/></clipPath><clipPath id="c45" clipPathUnits="userSpaceOnUse"><rect x="-5000" y="-5000" width="10000" height="4995.10"/><rect x="-5000.00" y="-5.40" width="4930.66" height="5005.40"/><rect x="-60.64" y="-5.40" width="3.78" height="5005.40"/><rect x="-48.49" y="-5.40" width="5048.49" height="5005.40"/></clipPath><clipPath id="c46" clipPathUnits="userSpaceOnUse"><rect x="-5000" y="-5000" width="10000" height="4995.82"/><rect x="-5000.00" y="-4.68" width="4966.87" height="5004.68"/><rect x="-26.11" y="-4.68" width="2.93" height="5004.68"/><rect x="-10.12" y="-4.68" width="2.93" height="5004.68"/><rect x="-0.43" y="-4.68" width="5000.43" height="5004.68"/></clipPath><clipPath id="c47" clipPathUnits="userSpaceOnUse"><rect x="-5000" y="-5000" width="10000" height="4995.82"/><rect x="-5000.00" y="-4.68" width="4918.32" height="5004.68"/><rect x="-74.66" y="-4.68" width="2.93" height="5004.68"/><rect x="-64.97" y="-4.68" width="5064.97" height="5004.68"/></clipPath><clipPath id="c48" clipPathUnits="userSpaceOnUse"><rect x="-5000" y="-5000" width="10000" height="4995.82"/><rect x="-5000.00" y="-4.68" width="4886.94" height="5004.68"/><rect x="-106.04" y="-4.68" width="2.93" height="5004.68"/><rect x="-96.35" y="-4.68" width="5096.35" height="5004.68"/></clipPath><clipPath id="c49" clipPathUnits="userSpaceOnUse"><rect x="-5000" y="-5000" width="10000" height="4995.82"/><rect x="-5000.00" y="-4.68" width="4914.64" height="5004.68"/><rect x="-78.34" y="-4.68" width="2.93" height="5004.68"/><rect x="-68.64" y="-4.68" width="5068.64" height="5004.68"/></clipPath><clipPath id="c50" clipPathUnits="userSpaceOnUse"><rect x="-5000" y="-5000" width="10000" height="4995.82"/><rect x="-5000.00" y="-4.68" width="4914.64" height="5004.68"/><rect x="-78.34" y="-4.68" width="2.93" height="5004.68"/><rect x="-68.64" y="-4.68" width="5068.64" height="5004.68"/></clipPath><clipPath id="c51" clipPathUnits="userSpaceOnUse"><rect x="-5000" y="-5000" width="10000" height="4995.82"/><rect x="-5000.00" y="-4.68" width="4886.94" height="5004.68"/><rect x="-106.04" y="-4.68" width="2.93" height="5004.68"/><rect x="-96.35" y="-4.68" width="5096.35" height="5004.68"/></clipPath><clipPath id="c52" clipPathUnits="userSpaceOnUse"><rect x="-5000" y="-5000" width="10000" height="4995.82"/><rect x="-5000.00" y="-4.68" width="4966.87" height="5004.68"/><rect x="-26.11" y="-4.68" width="2.93" height="5004.68"/><rect x="-10.12" y="-4.68" width="2.93" height="5004.68"/><rect x="-0.43" y="-4.68" width="5000.43" height="5004.68"/></clipPath><clipPath id="c53" clipPathUnits="userSpaceOnUse"><rect x="-5000" y="-5000" width="10000" height="4995.82"/><rect x="-5000.00" y="-4.68" width="4918.32" height="5004.68"/><rect x="-74.66" y="-4.68" width="2.93" height="5004.68"/><rect x="-64.97" y="-4.68" width="5064.97" height="5004.68"/></clipPath><clipPath id="c54" clipPathUnits="userSpaceOnUse"><rect x="-5000" y="-5000" width="10000" height="4995.82"/><rect x="-5000.00" y="-4.68" width="4966.87" height="5004.68"/><rect x="-26.11" y="-4.68" width="2.93" height="5004.68"/><rect x="-10.12" y="-4.68" width="2.93" height="5004.68"/><rect x="-0.43" y="-4.68" width="5000.43" height="5004.68"/></clipPath><clipPath id="c55" clipPathUnits="userSpaceOnUse"><rect x="-5000" y="-5000" width="10000" height="4995.82"/><rect x="-5000.00" y="-4.68" width="4918.32" height="5004.68"/><rect x="-74.66" y="-4.68" width="2.93" height="5004.68"/><rect x="-64.97" y="-4.68" width="5064.97" height="5004.68"/></clipPath><clipPath id="c56" clipPathUnits="userSpaceOnUse"><rect x="-5000" y="-5000" width="10000" height="4995.82"/><rect x="-5000.00" y="-4.68" width="4914.64" height="5004.68"/><rect x="-78.34" y="-4.68" width="2.93" height="5004.68"/><rect x="-68.64" y="-4.68" width="5068.64" height="5004.68"/></clipPath><clipPath id="c57" clipPathUnits="userSpaceOnUse"><rect x="-5000" y="-5000" width="10000" height="4995.82"/><rect x="-5000.00" y="-4.68" width="4966.87" height="5004.68"/><rect x="-26.11" y="-4.68" width="2.93" height="5004.68"/><rect x="-10.12" y="-4.68" width="2.93" height="5004.68"/><rect x="-0.43" y="-4.68" width="5000.43" height="5004.68"/></clipPath><clipPath id="c58" clipPathUnits="userSpaceOnUse"><rect x="-5000" y="-5000" width="10000" height="4995.82"/><rect x="-5000.00" y="-4.68" width="4918.32" height="5004.68"/><rect x="-74.66" y="-4.68" width="2.93" height="5004.68"/><rect x="-64.97" y="-4.68" width="5064.97" height="5004.68"/></clipPath><clipPath id="c59" clipPathUnits="userSpaceOnUse"><rect x="-5000" y="-5000" width="10000" height="4995.82"/><rect x="-5000.00" y="-4.68" width="4914.64" height="5004.68"/><rect x="-78.34" y="-4.68" width="2.93" height="5004.68"/><rect x="-68.64" y="-4.68" width="5068.64" height="5004.68"/></clipPath><clipPath id="c60" clipPathUnits="userSpaceOnUse"><rect x="-5000" y="-5000" width="10000" height="4995.10"/><rect x="-5000.00" y="-5.40" width="4930.66" height="5005.40"/><rect x="-60.64" y="-5.40" width="3.78" height="5005.40"/><rect x="-48.49" y="-5.40" width="5048.49" height="5005.40"/></clipPath><clipPath id="c61" clipPathUnits="userSpaceOnUse"><rect x="-5000" y="-5000" width="10000" height="4995.10"/><rect x="-5000.00" y="-5.40" width="4930.66" height="5005.40"/><rect x="-60.64" y="-5.40" width="3.78" height="5005.40"/><rect x="-48.49" y="-5.40" width="5048.49" height="5005.40"/></clipPath></defs>
</g>
</svg>
</body></html>
